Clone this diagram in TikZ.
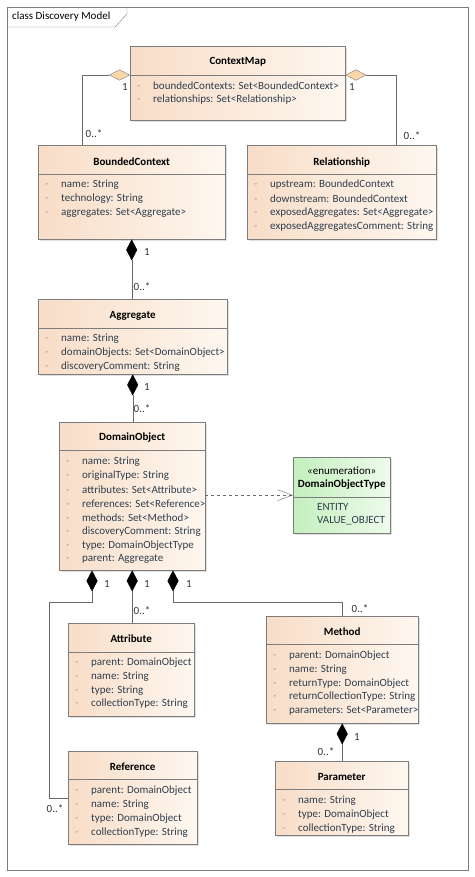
\documentclass[tikz,border=0pt]{standalone}
\usepackage{fontspec}
\setmainfont{Carlito}
\usetikzlibrary{arrows.meta,calc,shadows}

\definecolor{clsA}{RGB}{248,221,199}
\definecolor{clsB}{RGB}{254,247,240}
\definecolor{enumA}{RGB}{196,239,190}
\definecolor{enumB}{RGB}{238,251,235}
\definecolor{boxline}{RGB}{125,125,125}
\definecolor{lineclr}{RGB}{105,105,105}
\definecolor{attrclr}{RGB}{48,62,78}
\definecolor{dashclr}{RGB}{185,150,125}
\definecolor{diafill}{RGB}{250,214,168}

\tikzset{
  cls/.style={draw=boxline, anchor=north west, inner sep=0pt,
    left color=clsA, right color=clsB,
    drop shadow={opacity=0.25, shadow xshift=2pt, shadow yshift=-2pt}},
  enumcls/.style={cls, left color=enumA, right color=enumB},
  hdr/.style={draw=boxline},
  ctitle/.style={inner sep=0pt, font=\fontsize{11}{13}\selectfont\bfseries},
  attr/.style={anchor=west, inner sep=0pt, text=attrclr, font=\fontsize{11}{13}\selectfont},
  mult/.style={inner sep=0pt, text=black!80, font=\fontsize{11}{13}\selectfont},
  comp/.style={draw=lineclr, {Diamond[length=21pt,width=11pt,color=black]}-},
  aggr/.style={draw=lineclr, {Diamond[length=21pt,width=11pt,fill=diafill,color=boxline]}-},
  dep/.style={draw=lineclr, dashed, -{Straight Barb[length=15pt,width=11pt]}}
}
\newcommand{\attrdash}{\makebox[16pt][l]{\color{dashclr}-}}

\begin{document}
\begin{tikzpicture}[x=1pt,y=-1pt]
  \useasboundingbox (0,0) rectangle (474,877);

  % frame
  \draw[boxline] (7,7) rectangle (468,870);
  \draw[boxline] (7,27) -- (115,27) -- (127,14) -- (127,7);
  \node[anchor=west, inner sep=0pt, font=\fontsize{11}{13}\selectfont] (frametitle) at (12,17) {class Discovery Model};

  % ContextMap
  \node[cls, minimum width=215pt, minimum height=74pt] (cm) at (130,46) {};
  \draw[hdr] ([yshift=-29pt]cm.north west) -- ([yshift=-29pt]cm.north east);
  \node[ctitle] (cm-t) at ([yshift=-16pt]cm.north) {ContextMap};
  \foreach \a [count=\i] in {boundedContexts: Set<BoundedContext>, relationships: Set<Relationship>}
    \node[attr] (cm-\i) at ($(cm.north west)+(7,25.5+13.9*\i)$) {\attrdash\a};

  % BoundedContext
  \node[cls, minimum width=187pt, minimum height=94pt] (bc) at (38,145) {};
  \draw[hdr] ([yshift=-29pt]bc.north west) -- ([yshift=-29pt]bc.north east);
  \node[ctitle] (bc-t) at ([yshift=-17pt]bc.north) {BoundedContext};
  \foreach \a [count=\i] in {name: String, technology: String, aggregates: Set<Aggregate>}
    \node[attr] (bc-\i) at ($(bc.north west)+(7,26+13.9*\i)$) {\attrdash\a};

  % Relationship
  \node[cls, minimum width=189pt, minimum height=94pt] (rel) at (247,145) {};
  \draw[hdr] ([yshift=-29pt]rel.north west) -- ([yshift=-29pt]rel.north east);
  \node[ctitle] (rel-t) at ([yshift=-17pt]rel.north) {Relationship};
  \foreach \a [count=\i] in {upstream: BoundedContext, downstream: BoundedContext,
      exposedAggregates: Set<Aggregate>, exposedAggregatesComment: String}
    \node[attr] (rel-\i) at ($(rel.north west)+(7,26+13.9*\i)$) {\attrdash\a};

  % Aggregate
  \node[cls, minimum width=189pt, minimum height=75pt] (agg) at (38,299) {};
  \draw[hdr] ([yshift=-29pt]agg.north west) -- ([yshift=-29pt]agg.north east);
  \node[ctitle] (agg-t) at ([yshift=-17pt]agg.north) {Aggregate};
  \foreach \a [count=\i] in {name: String, domainObjects: Set<DomainObject>, discoveryComment: String}
    \node[attr] (agg-\i) at ($(agg.north west)+(7,26+13.9*\i)$) {\attrdash\a};

  % DomainObject
  \node[cls, minimum width=146pt, minimum height=148pt] (dobj) at (59,422) {};
  \draw[hdr] ([yshift=-28pt]dobj.north west) -- ([yshift=-28pt]dobj.north east);
  \node[ctitle] (dobj-t) at ([yshift=-16pt]dobj.north) {DomainObject};
  \foreach \a [count=\i] in {name: String, originalType: String, attributes: Set<Attribute>,
      references: Set<Reference>, methods: Set<Method>, discoveryComment: String,
      type: DomainObjectType, parent: Aggregate}
    \node[attr] (dobj-\i) at ($(dobj.north west)+(7,26+13.9*\i)$) {\attrdash\a};

  % DomainObjectType
  \node[enumcls, minimum width=97pt, minimum height=76pt] (dtype) at (293,457) {};
  \draw[hdr] ([yshift=-40pt]dtype.north west) -- ([yshift=-40pt]dtype.north east);
  \node[inner sep=0pt, font=\fontsize{11}{13}\selectfont] (dtype-s) at ([yshift=-14pt]dtype.north) {«enumeration»};
  \node[ctitle] (dtype-t) at ([yshift=-28pt]dtype.north) {DomainObjectType};
  \node[attr] (dtype-1) at ($(dtype.north west)+(24,50)$) {ENTITY};
  \node[attr] (dtype-2) at ($(dtype.north west)+(24,64)$) {VALUE\_OBJECT};

  % Attribute
  \node[cls, minimum width=126pt, minimum height=93pt] (attr) at (68,623) {};
  \draw[hdr] ([yshift=-29pt]attr.north west) -- ([yshift=-29pt]attr.north east);
  \node[ctitle] (attr-t) at ([yshift=-16pt]attr.north) {Attribute};
  \foreach \a [count=\i] in {parent: DomainObject, name: String, type: String, collectionType: String}
    \node[attr] (attr-\i) at ($(attr.north west)+(7,25.5+13.9*\i)$) {\attrdash\a};

  % Method
  \node[cls, minimum width=152pt, minimum height=107pt] (meth) at (266,616) {};
  \draw[hdr] ([yshift=-28pt]meth.north west) -- ([yshift=-28pt]meth.north east);
  \node[ctitle] (meth-t) at ([yshift=-16pt]meth.north) {Method};
  \foreach \a [count=\i] in {parent: DomainObject, name: String, returnType: DomainObject,
      returnCollectionType: String, parameters: Set<Parameter>}
    \node[attr] (meth-\i) at ($(meth.north west)+(7,25.5+13.9*\i)$) {\attrdash\a};

  % Reference
  \node[cls, minimum width=129pt, minimum height=93pt] (ref) at (68,751) {};
  \draw[hdr] ([yshift=-28pt]ref.north west) -- ([yshift=-28pt]ref.north east);
  \node[ctitle] (ref-t) at ([yshift=-16pt]ref.north) {Reference};
  \foreach \a [count=\i] in {parent: DomainObject, name: String, type: DomainObject, collectionType: String}
    \node[attr] (ref-\i) at ($(ref.north west)+(7,26+13.9*\i)$) {\attrdash\a};

  % Parameter
  \node[cls, minimum width=133pt, minimum height=74pt] (par) at (275,761) {};
  \draw[hdr] ([yshift=-28pt]par.north west) -- ([yshift=-28pt]par.north east);
  \node[ctitle] (par-t) at ([yshift=-16pt]par.north) {Parameter};
  \foreach \a [count=\i] in {name: String, type: DomainObject, collectionType: String}
    \node[attr] (par-\i) at ($(par.north west)+(7,25.5+13.9*\i)$) {\attrdash\a};

  % connectors
  \draw[aggr] ([yshift=-29pt]cm.north west) -| ([xshift=44pt]bc.north west);
  \draw[aggr] ([yshift=-29pt]cm.north east) -| ([xshift=149pt]rel.north west);
  \draw[comp] (bc.south) -- (bc.south |- agg.north);
  \draw[comp] (agg.south) -- (agg.south |- dobj.north);
  \draw[comp] ([xshift=33pt]dobj.south west) -- ++(0,32) -- ++(-43,0) |- (ref.west);
  \draw[comp] (dobj.south) -- (dobj.south |- attr.north);
  \draw[comp] ([xshift=114pt]dobj.south west) -- ++(0,32) -| (meth.north);
  \draw[comp] (meth.south) -- (meth.south |- par.north);
  \draw[dep] (dobj.east |- dtype.west) -- (dtype.west);

  % multiplicities
  \node[mult] (m1)  at (125,87)  {1};
  \node[mult] (m2)  at (94,134)  {0..*};
  \node[mult] (m3)  at (352,87)  {1};
  \node[mult] (m4)  at (412,136) {0..*};
  \node[mult] (m5)  at (147,252) {1};
  \node[mult] (m6)  at (142,287) {0..*};
  \node[mult] (m7)  at (147,387) {1};
  \node[mult] (m8)  at (142,409) {0..*};
  \node[mult] (m9)  at (107,584) {1};
  \node[mult] (m10) at (147,584) {1};
  \node[mult] (m11) at (189,584) {1};
  \node[mult] (m12) at (142,611) {0..*};
  \node[mult] (m13) at (360,609) {0..*};
  \node[mult] (m14) at (55,809)  {0..*};
  \node[mult] (m15) at (357,737) {1};
  \node[mult] (m16) at (326,752) {0..*};
\end{tikzpicture}
\end{document}
